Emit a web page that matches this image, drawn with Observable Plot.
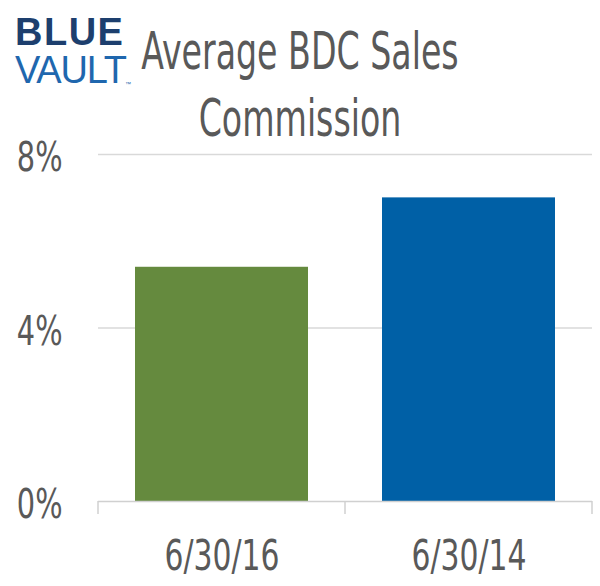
<!DOCTYPE html>
<html>
<head>
<meta charset="utf-8">
<script src="https://cdn.jsdelivr.net/npm/d3@7"></script>
<script src="https://cdn.jsdelivr.net/npm/@observablehq/plot@0.6"></script>
<style>
  html, body { margin: 0; padding: 0; background: #fff; }
  #wrap { width: 600px; height: 586px; position: relative; overflow: hidden; }
  #header { position: relative; width: 600px; height: 140px; }
  .t { position: absolute; white-space: nowrap; line-height: 1; font-family: "DejaVu Sans Condensed", "DejaVu Sans", sans-serif; }
  #blue { left: 15px; top: 13px; font-family: "Liberation Sans", sans-serif; font-weight: bold; font-size: 38px; color: #1d3f6e; letter-spacing: 1.5px; }
  #vault { left: 15px; top: 51px; font-family: "Liberation Sans", sans-serif; font-size: 38px; color: #1f67ae; letter-spacing: -1.2px; }
  #tm { left: 125px; top: 81px; font-family: "Liberation Sans", sans-serif; font-size: 6px; color: #1f67ae; }
  .title { left: 300px; font-size: 52px; color: #595959; transform: translateX(-50%) scaleX(0.71); transform-origin: 50% 0; }
  #t1 { top: 25px; }
  #t2 { top: 92px; }
</style>
</head>
<body>
<div id="wrap">
  <div id="header">
    <div class="t" id="blue">BLUE</div>
    <div class="t" id="vault">VAULT</div>
    <div class="t" id="tm">™</div>
    <div class="t title" id="t1">Average BDC Sales</div>
    <div class="t title" id="t2">Commission</div>
  </div>
  <div id="chart"></div>
</div>
<script>
const categories = ["6/30/16", "6/30/14"];
const values = [5.4, 7.0];
const barColors = ["#658a3e", "#0060a6"];
const yTicks = [0, 4, 8];
const yTickLabels = ["0%", "4%", "8%"];
const gridValues = [4, 8];

const data = categories.map((c, i) => ({date: c, value: values[i]}));
const FONT = '"DejaVu Sans Condensed", "DejaVu Sans", sans-serif';

const chart = Plot.plot({
  width: 600,
  height: 446,
  marginTop: 14,
  marginBottom: 85,
  marginLeft: 98,
  marginRight: 8,
  style: {fontFamily: FONT, color: "#595959", background: "transparent", overflow: "visible"},
  x: {domain: categories, paddingInner: 0.3, paddingOuter: 0.15, label: null},
  y: {domain: [0, 8], label: null},
  color: {domain: categories, range: barColors},
  marks: [
    Plot.ruleY(gridValues, {stroke: "#d9d9d9", strokeWidth: 1.5}),
    Plot.barY(data, {x: "date", y: "value", fill: "date"}),
    Plot.ruleY([0], {stroke: "#d0d0d0", strokeWidth: 1.5}),
    Plot.axisY({ticks: yTicks, tickSize: 0, tickPadding: 36, tickFormat: (d) => yTickLabels[yTicks.indexOf(d)], fontSize: 40, fill: "#595959", dy: 4, label: null}),
    Plot.axisX({tickSize: 0, tickPadding: 39, fontSize: 42, fill: "#595959", label: null})
  ]
});
document.getElementById("chart").appendChild(chart);

// Horizontally condense axis labels (reference uses a condensed face)
function squeeze(sel, k) {
  sel.each(function () {
    let t = this.getAttribute("transform") || "";
    const x = this.getAttribute("x");
    if (x != null && /^-?[\d.]+$/.test(x)) {
      this.removeAttribute("x");
      t = `${t} translate(${x},0)`;
    }
    this.setAttribute("transform", `${t} scale(${k},1)`);
  });
}
squeeze(d3.select(chart).selectAll("g[aria-label='y-axis tick label'] text"), 0.8);
squeeze(d3.select(chart).selectAll("g[aria-label='x-axis tick label'] text"), 0.79);

// Category boundary tick marks (Excel style), derived from the plot's own scales
const xs = chart.scale("x");
const ys = chart.scale("y");
const gap = (xs.step - xs.bandwidth) / 2;
const bounds = categories.map((c) => xs.apply(c) - gap);
bounds.push(xs.apply(categories[categories.length - 1]) + xs.bandwidth + gap);
const y0 = ys.apply(0);
d3.select(chart).append("g")
  .selectAll("line")
  .data(bounds)
  .join("line")
  .attr("x1", (d) => d).attr("x2", (d) => d)
  .attr("y1", y0).attr("y2", y0 + 13)
  .attr("stroke", "#d0d0d0")
  .attr("stroke-width", 1.5);
</script>
</body>
</html>
